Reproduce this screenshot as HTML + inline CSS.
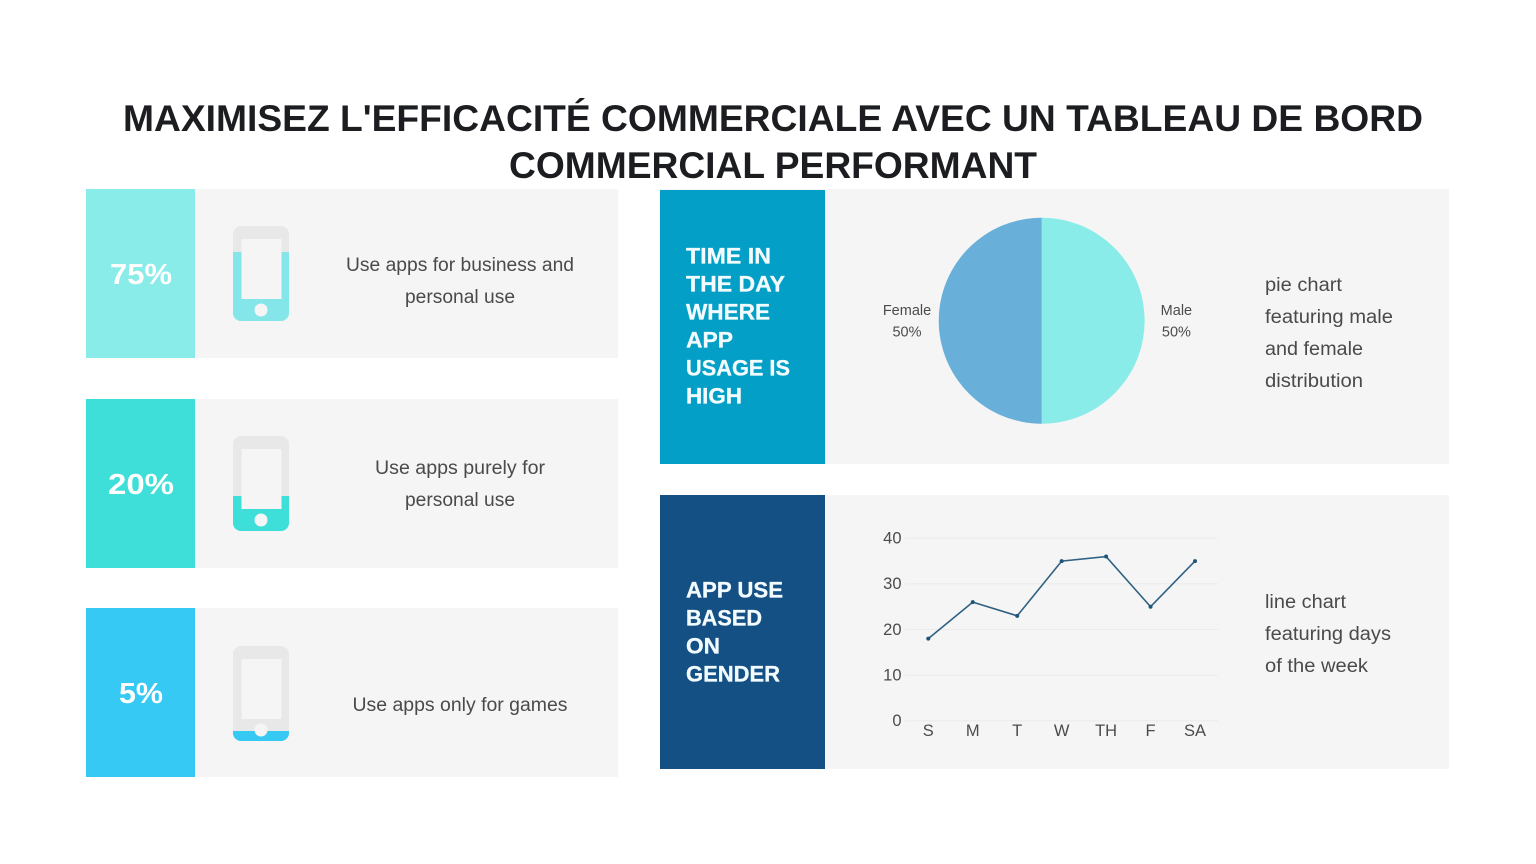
<!DOCTYPE html>
<html lang="fr">
<head>
<meta charset="utf-8">
<title>Tableau de bord commercial</title>
<style>
html,body{margin:0;padding:0;background:#fff;width:1536px;height:864px;overflow:hidden}
svg{display:block;font-family:"Liberation Sans",sans-serif}
.title{font-size:37px;font-weight:700;fill:#1c1d20}
.tab{font-size:22px;font-weight:700;fill:#f2fbfd;stroke:#f2fbfd;stroke-width:.3}
.pct{font-size:29px;font-weight:700;fill:#fff;text-anchor:middle}
.body{font-size:19px;fill:#4a4a4a}
.mid{text-anchor:middle}
.axis{font-size:16.5px;fill:#4b4b4b}
.pielab{font-size:14.5px;fill:#4b4b4b;text-anchor:middle}
</style>
</head>
<body>
<svg id="page" xmlns="http://www.w3.org/2000/svg" width="1536" height="864" viewBox="0 0 1536 864">
  <rect width="1536" height="864" fill="#fff"/>

  <g>
    <text class="title" x="123" y="131" textLength="1300" lengthAdjust="spacingAndGlyphs">MAXIMISEZ L'EFFICACITÉ COMMERCIALE AVEC UN TABLEAU DE BORD</text>
    <text class="title" x="509" y="178" textLength="528" lengthAdjust="spacingAndGlyphs">COMMERCIAL PERFORMANT</text>
  </g>

  <!-- Stat card 1 -->
  <g>
    <rect x="86" y="189" width="532" height="169" fill="#f5f5f5"/>
    <rect x="86" y="189" width="109" height="169" fill="#8aece8"/>
    <text class="pct" x="141" y="284" textLength="62" lengthAdjust="spacingAndGlyphs">75%</text>
    <g>
      <rect x="233" y="226" width="56" height="95" rx="8" fill="#e8e8e8"/>
      <path d="M233 252H289V313a8 8 0 0 1-8 8H241a8 8 0 0 1-8-8Z" fill="#84e6e8"/>
      <rect x="241.500" y="239" width="40" height="60" fill="#f5f5f5"/>
      <circle cx="261" cy="310" r="6.500" fill="#f5f5f5"/>
    </g>
    <text class="body mid" x="460" y="271" textLength="228" lengthAdjust="spacingAndGlyphs">Use apps for business and</text>
    <text class="body mid" x="460" y="303" textLength="110" lengthAdjust="spacingAndGlyphs">personal use</text>
  </g>

  <!-- Stat card 2 -->
  <g>
    <rect x="86" y="399" width="532" height="169" fill="#f5f5f5"/>
    <rect x="86" y="399" width="109" height="169" fill="#3fdfd9"/>
    <text class="pct" x="141" y="494" textLength="66" lengthAdjust="spacingAndGlyphs">20%</text>
    <g>
      <rect x="233" y="436" width="56" height="95" rx="8" fill="#e8e8e8"/>
      <path d="M233 496H289V523a8 8 0 0 1-8 8H241a8 8 0 0 1-8-8Z" fill="#3fdfd9"/>
      <rect x="241.500" y="449" width="40" height="60" fill="#f5f5f5"/>
      <circle cx="261" cy="520" r="6.500" fill="#f5f5f5"/>
    </g>
    <text class="body mid" x="460" y="474" textLength="170" lengthAdjust="spacingAndGlyphs">Use apps purely for</text>
    <text class="body mid" x="460" y="506" textLength="110" lengthAdjust="spacingAndGlyphs">personal use</text>
  </g>

  <!-- Stat card 3 -->
  <g>
    <rect x="86" y="608" width="532" height="169" fill="#f5f5f5"/>
    <rect x="86" y="608" width="109" height="169" fill="#36c9f4"/>
    <text class="pct" x="141" y="703" textLength="44" lengthAdjust="spacingAndGlyphs">5%</text>
    <g>
      <rect x="233" y="646" width="56" height="95" rx="8" fill="#e8e8e8"/>
      <path d="M233 731H289V733a8 8 0 0 1-8 8H241a8 8 0 0 1-8-8Z" fill="#36c9f4"/>
      <rect x="241.500" y="659" width="40" height="60" fill="#f5f5f5"/>
      <circle cx="261" cy="730" r="6.500" fill="#f5f5f5"/>
    </g>
    <text class="body mid" x="460" y="711" textLength="215" lengthAdjust="spacingAndGlyphs">Use apps only for games</text>
  </g>

  <!-- Pie panel -->
  <g>
    <rect x="660" y="189" width="789" height="275" fill="#f5f5f5"/>
    <rect x="660" y="190" width="165" height="274" fill="#049fc6"/>
    <text class="tab" x="686" y="263.500" textLength="85" lengthAdjust="spacingAndGlyphs">TIME IN</text>
    <text class="tab" x="686" y="291.500" textLength="99" lengthAdjust="spacingAndGlyphs">THE DAY</text>
    <text class="tab" x="686" y="319.500" textLength="84" lengthAdjust="spacingAndGlyphs">WHERE</text>
    <text class="tab" x="686" y="347.500" textLength="47" lengthAdjust="spacingAndGlyphs">APP</text>
    <text class="tab" x="686" y="375.500" textLength="104" lengthAdjust="spacingAndGlyphs">USAGE IS</text>
    <text class="tab" x="686" y="403.500" textLength="56" lengthAdjust="spacingAndGlyphs">HIGH</text>
    <g id="pie-chart"></g>
    <text class="body" x="1265" y="291" textLength="77" lengthAdjust="spacingAndGlyphs">pie chart</text>
    <text class="body" x="1265" y="323" textLength="128" lengthAdjust="spacingAndGlyphs">featuring male</text>
    <text class="body" x="1265" y="355" textLength="98" lengthAdjust="spacingAndGlyphs">and female</text>
    <text class="body" x="1265" y="387" textLength="98" lengthAdjust="spacingAndGlyphs">distribution</text>
  </g>

  <!-- Line panel -->
  <g>
    <rect x="660" y="495" width="789" height="274" fill="#f5f5f5"/>
    <rect x="660" y="495" width="165" height="274" fill="#155084"/>
    <text class="tab" x="686" y="597.500" textLength="97" lengthAdjust="spacingAndGlyphs">APP USE</text>
    <text class="tab" x="686" y="625.500" textLength="76" lengthAdjust="spacingAndGlyphs">BASED</text>
    <text class="tab" x="686" y="653.500" textLength="34" lengthAdjust="spacingAndGlyphs">ON</text>
    <text class="tab" x="686" y="681.500" textLength="94" lengthAdjust="spacingAndGlyphs">GENDER</text>
    <g id="line-chart"></g>
    <text class="body" x="1265" y="608" textLength="81" lengthAdjust="spacingAndGlyphs">line chart</text>
    <text class="body" x="1265" y="640" textLength="126" lengthAdjust="spacingAndGlyphs">featuring days</text>
    <text class="body" x="1265" y="672" textLength="103" lengthAdjust="spacingAndGlyphs">of the week</text>
  </g>
</svg>

<script>
const pieCategories = ['Male', 'Female'];
const pieValues = [50, 50];
const pieColors = ['#8aece8', '#68afda'];
const pieLabelPercents = ['50%', '50%'];

const lineCategories = ['S', 'M', 'T', 'W', 'TH', 'F', 'SA'];
const lineValues = [18, 26, 23, 35, 36, 25, 35];
const yTickLabels = [0, 10, 20, 30, 40];

const NS = 'http://www.w3.org/2000/svg';
function make(tag, attrs, parent) {
  const el = document.createElementNS(NS, tag);
  Object.keys(attrs).forEach(function (k) { el.setAttribute(k, attrs[k]); });
  parent.appendChild(el);
  return el;
}

/* Pie chart */
(function () {
  const root = document.getElementById('pie-chart');
  const cx = 1041.7, cy = 320.7, r = 103;
  const total = pieValues.reduce(function (a, b) { return a + b; }, 0);
  let angle = -Math.PI / 2;
  pieValues.forEach(function (v, i) {
    const sweep = v / total * Math.PI * 2;
    const end = angle + sweep;
    const x0 = cx + r * Math.cos(angle), y0 = cy + r * Math.sin(angle);
    const x1 = cx + r * Math.cos(end), y1 = cy + r * Math.sin(end);
    const large = sweep > Math.PI ? 1 : 0;
    const slice = make('path', {
      d: 'M' + cx + ' ' + cy + 'L' + x0 + ' ' + y0 + 'A' + r + ' ' + r + ' 0 ' + large + ' 1 ' + x1 + ' ' + y1 + 'Z',
      fill: pieColors[i]
    }, root);
    
    

    const mid = angle + sweep / 2;
    const lx = cx + 134.700 * Math.cos(mid);
    const ly = cy + 134.700 * Math.sin(mid);
    const name = make('text', { x: lx, y: ly - 5.500, class: 'pielab' }, root);
    name.textContent = pieCategories[i];
    
    
    const pct = make('text', { x: lx, y: ly + 16, class: 'pielab' }, root);
    pct.textContent = pieLabelPercents[i];
    
    
    angle = end;
  });
})();

/* Line chart */
(function () {
  const root = document.getElementById('line-chart');
  const left = 905, right = 1218, firstX = 928.3, lastX = 1195;
  const y0 = 720.7, yTop = 538.3, yMax = 40;
  function xScale(i) { return firstX + (lastX - firstX) * i / (lineCategories.length - 1); }
  function yScale(v) { return y0 - (y0 - yTop) * v / yMax; }

  yTickLabels.forEach(function (t) {
    const grid = make('line', { x1: left, x2: right, y1: yScale(t), y2: yScale(t), stroke: '#ebebeb', 'stroke-width': 1 }, root);
    
    
    const lab = make('text', { x: 901.500, y: yScale(t) + 5.300, class: 'axis', 'text-anchor': 'end' }, root);
    lab.textContent = t;
    
    
  });

  lineCategories.forEach(function (c, i) {
    const lab = make('text', { x: xScale(i), y: 736, class: 'axis', 'text-anchor': 'middle' }, root);
    lab.textContent = c;
    
    
  });

  const pts = lineValues.map(function (v, i) { return xScale(i) + ',' + yScale(v); }).join(' ');
  const line = make('polyline', { points: pts, fill: 'none', stroke: '#2f6184', 'stroke-width': 1.6 }, root);
  
  

  lineValues.forEach(function (v, i) {
    const dot = make('circle', { cx: xScale(i), cy: yScale(v), r: 2, fill: '#1f5578' }, root);
    
    
  });
})();
</script>
</body>
</html>
